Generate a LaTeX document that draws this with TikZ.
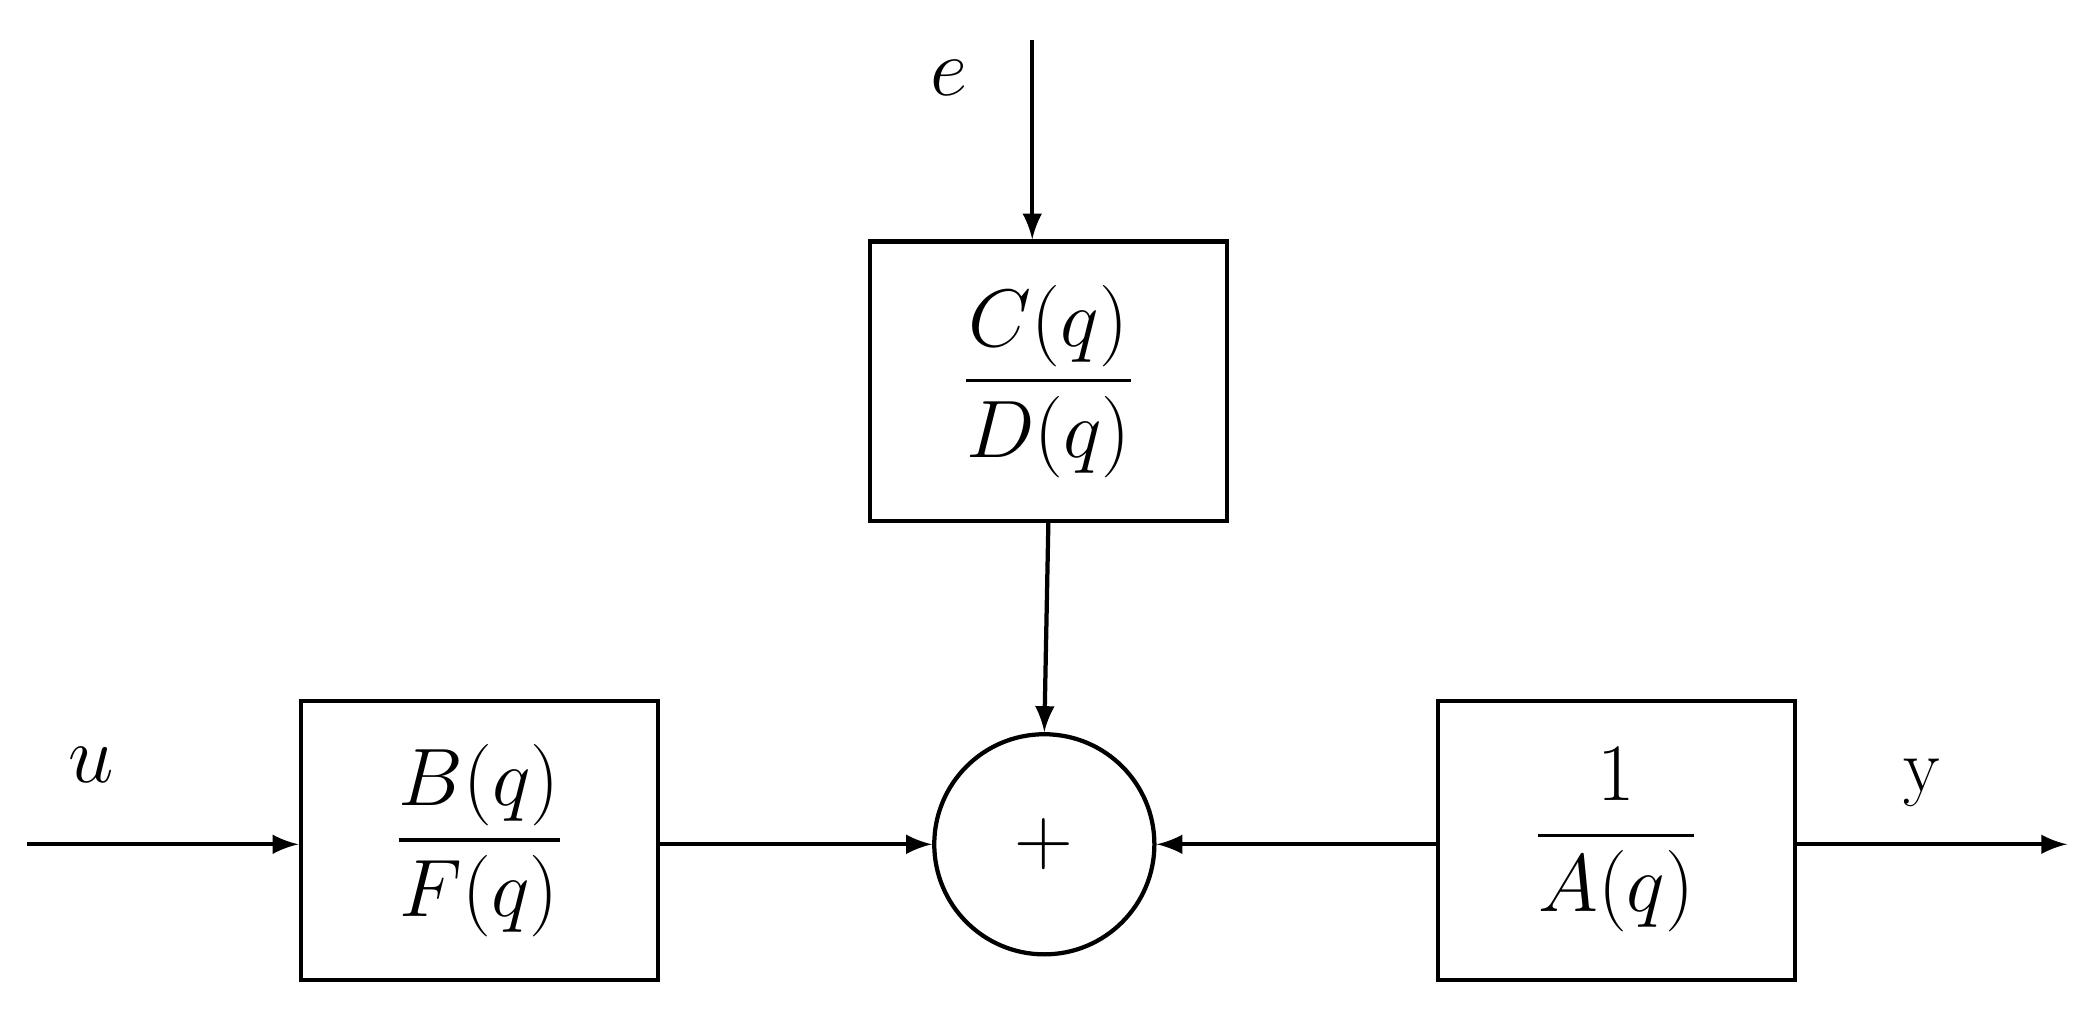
\documentclass[tikz,border=0pt]{standalone}
\usepackage{amsmath}
\usepackage{tikz}
\usetikzlibrary{arrows}
\usepackage{xcolor}

\begin{document}
\begin{tikzpicture}[line width=0.9pt, >=latex,
	blk/.style={draw, minimum width=2.66cm, minimum height=2.08cm, font=\fontsize{16}{19}\selectfont},
	lbl/.style={font=\fontsize{16}{19}\selectfont}]
	\useasboundingbox (0,0) rectangle (15.6,7.54);
	
	\node[blk] (bf) at (3.57, 1.28) {$\dfrac{B(q)}{F(q)}$};
	\node[blk] (cd) at (7.81, 4.70) {$\dfrac{C(q)}{D(q)}$};
	\node[blk] (ia) at (12.04, 1.28) {$\dfrac{1}{A(q)}$};
	\node[draw, circle, minimum size=1.64cm, inner sep=0pt, lbl] (sum) at (7.78, 1.25) {$+$};
	
	\coordinate (uin) at (0.20, 1.25);
	\coordinate (ein) at (7.69, 7.24);
	\coordinate (yout) at (15.40, 1.25);
	
	\node[lbl] (ul) at (0.68, 1.84) {$u$};
	\node[lbl] (el) at (7.07, 6.96) {$e$};
	\node[lbl] (yl) at (14.32, 1.71) {y};
	
	\draw[->] (uin) -- (uin -| bf.west);
	\draw[->] (bf.east |- sum) -- (sum.west);
	\draw[->] (ia.west |- sum) -- (sum.east);
	\draw[->] (ia.east |- yout) -- (yout);
	\draw[->] (ein) -- (ein |- cd.north);
	\draw[->] (cd.south) -- (sum.north);
\end{tikzpicture}
\end{document}
